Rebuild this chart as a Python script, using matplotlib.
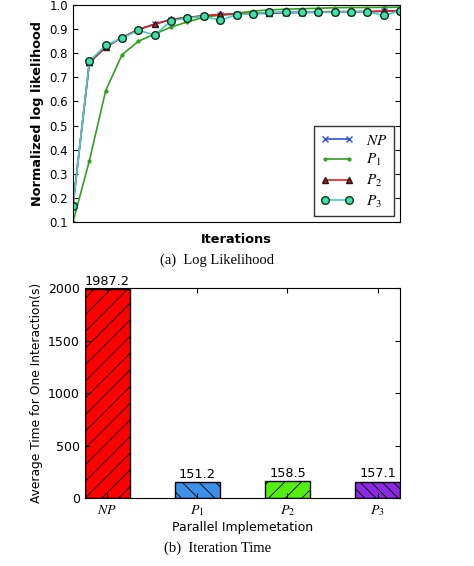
import numpy as np
import matplotlib
matplotlib.use('Agg')
import matplotlib.pyplot as plt

# ==============================================================================
# Data
#
iterations = np.arange(21)
np_values = [0.17, 0.76, 0.825, 0.865, 0.898, 0.922, 0.940, 0.948, 0.955,
             0.960, 0.962, 0.964, 0.966, 0.968, 0.969, 0.970, 0.971, 0.971,
             0.972, 0.974, 0.976]
p1_values = [0.10, 0.353, 0.645, 0.794, 0.850, 0.880, 0.909, 0.930, 0.950,
             0.958, 0.966, 0.975, 0.980, 0.983, 0.985, 0.987, 0.989, 0.990,
             0.990, 0.991, 0.991]
p2_values = [0.17, 0.762, 0.826, 0.866, 0.899, 0.920, 0.941, 0.949, 0.956,
             0.961, 0.964, 0.966, 0.968, 0.970, 0.971, 0.972, 0.973, 0.973,
             0.974, 0.975, 0.977]
p3_values = [0.166, 0.767, 0.833, 0.863, 0.895, 0.876, 0.935, 0.946, 0.953,
             0.937, 0.960, 0.964, 0.970, 0.970, 0.971, 0.971, 0.971, 0.972,
             0.972, 0.957, 0.977]

implementations = ['$NP$', '$P_1$', '$P_2$', '$P_3$']
iteration_times = [1987.2, 151.2, 158.5, 157.1]

# ==============================================================================
# Style
#
BAR_COLORS = ['#ff0000', '#3d8fe8', '#55ee11', '#8a2be2']
BAR_HATCHES = ['//', '\\\\', '//', '\\\\\\']
CAPTION_FONT = 'Liberation Serif'

plt.rcParams['xtick.direction'] = 'in'
plt.rcParams['ytick.direction'] = 'in'
plt.rcParams['xtick.top'] = True
plt.rcParams['ytick.right'] = True
plt.rcParams['hatch.linewidth'] = 0.6
plt.rcParams['hatch.color'] = '#202020'
plt.rcParams['mathtext.fontset'] = 'stix'

fig = plt.figure(figsize=(4.74, 5.66), dpi=100)

# ==============================================================================
# (a) log likelihood
#
ax1 = fig.add_axes([0.154, 0.608, 0.690, 0.383])
ax1.plot(iterations, np_values, color='#3050e0', marker='x', markersize=5,
         linewidth=1.2, label='$NP$')
ax1.plot(iterations, p1_values, color='#30a020', marker='.', markersize=4,
         linewidth=1.2, label='$P_1$')
ax1.plot(iterations, p2_values, color='#e02020', marker='^', markersize=5,
         markerfacecolor='#a02828', markeredgecolor='#301010',
         linewidth=1.2, label='$P_2$')
ax1.plot(iterations, p3_values, color='#40d0c0', marker='o', markersize=5.5,
         markerfacecolor='#40e0a8', markeredgecolor='#103020',
         linewidth=1.2, label='$P_3$')
ax1.set_xlim(0, 20)
ax1.set_ylim(0.1, 1.0)
ax1.set_yticks(np.arange(0.1, 1.01, 0.1))
ax1.set_yticklabels(['%.1f' % v for v in np.arange(0.1, 1.01, 0.1)])
ax1.set_xticks([])
ax1.tick_params(labelsize=8.5)
ax1.set_ylabel('Normalized log likelihood', fontsize=9.3, fontweight='bold')
ax1.set_xlabel('Iterations', fontsize=9.3, fontweight='bold', labelpad=8)
legend = ax1.legend(loc='lower right', fontsize=11, fancybox=False,
                    borderpad=0.4, handlelength=2.2, labelspacing=0.3,
                    borderaxespad=0.4, numpoints=2)
legend.get_frame().set_edgecolor('black')
legend.get_frame().set_linewidth(1)

fig.text(0.458, 0.540, '(a)  Log Likelihood', family=CAPTION_FONT,
         fontsize=10.5, ha='center', va='center')

# ==============================================================================
# (b) iteration time
#
ax2 = fig.add_axes([0.179, 0.120, 0.665, 0.371])
positions = np.arange(len(implementations))
bars = ax2.bar(positions, iteration_times, width=0.5, color=BAR_COLORS,
               edgecolor='black', linewidth=1)
for bar, hatch in zip(bars, BAR_HATCHES):
    bar.set_hatch(hatch)
for x, value in zip(positions, iteration_times):
    ax2.text(x, value + 15, '%.1f' % value, ha='center', va='bottom',
             fontsize=9.3)
ax2.set_xlim(-0.25, 3.25)
ax2.set_ylim(0, 2000)
ax2.set_yticks([0, 500, 1000, 1500, 2000])
ax2.set_xticks(positions)
ax2.set_xticklabels(implementations, fontsize=10)
ax2.tick_params(axis='y', labelsize=9)
ax2.set_ylabel('Average Time for One Interaction(s)', fontsize=8.8)
ax2.set_xlabel('Parallel Implemetation', fontsize=9, labelpad=2)

fig.text(0.458, 0.032, '(b)  Iteration Time', family=CAPTION_FONT,
         fontsize=10.5, ha='center', va='center')

fig.savefig('out.png', dpi=100)
